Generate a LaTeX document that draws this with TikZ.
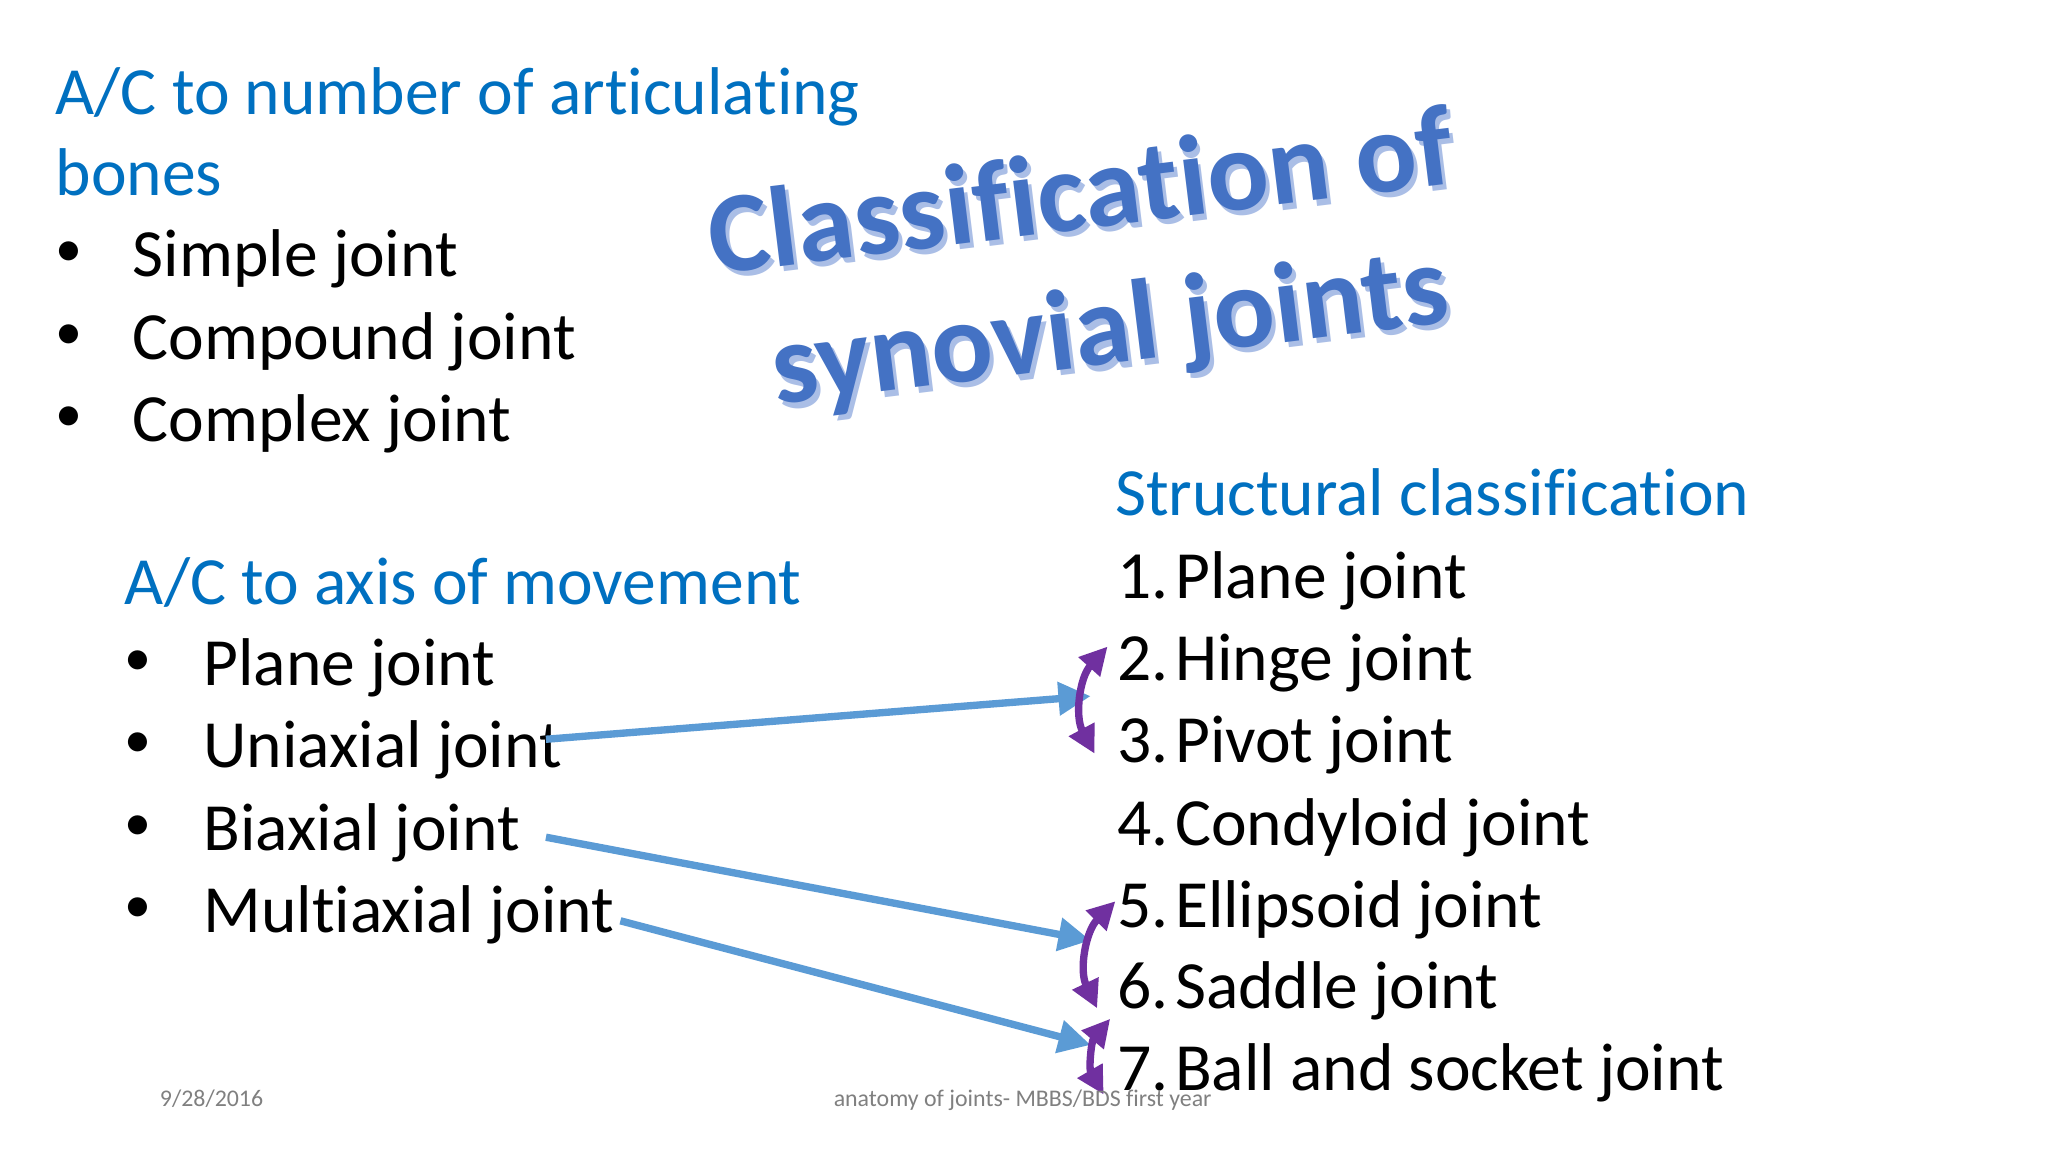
\documentclass[tikz,border=0pt]{standalone}
\usepackage{fontspec}
\setmainfont[Ligatures=NoCommon]{Carlito}
\usetikzlibrary{arrows.meta}
\definecolor{hblue}{RGB}{0,112,192}
\definecolor{ablue}{RGB}{91,155,213}
\definecolor{apurple}{RGB}{112,48,160}
\definecolor{tblue}{RGB}{68,114,196}
\definecolor{tshadow}{RGB}{170,190,230}
\tikzset{
 txt/.style={anchor=base west,inner sep=0pt,font=\fontsize{14.7pt}{16pt}\selectfont},
 head/.style={txt,text=hblue},
 foot/.style={anchor=base,inner sep=0pt,font=\fontsize{5.2pt}{6pt}\selectfont,text=gray},
 barrow/.style={draw=ablue,line width=1.6pt,-{Triangle[length=7pt,width=7pt]}},
 parrow/.style={draw=apurple,line width=1.6pt,{Triangle[length=6pt,width=6pt]}-{Triangle[length=6pt,width=6pt]}},
 title/.style={inner sep=0pt,font=\fontsize{25pt}{28pt}\selectfont\bfseries,text=tblue,rotate=7},
 tshad/.style={title,text=tshadow}
}
\newcommand{\bul}{\raisebox{0.15em}{\scalebox{0.8}{•}}}
\begin{document}
\begin{tikzpicture}[x=0.01cm,y=-0.01cm]
\useasboundingbox[fill=white] (0,0) rectangle (1568,882);
\node[head] (h1) at (42,88) {A/C to number of articulating};
\node[head] (h1b) at (42,150) {bones};
\foreach \t/\y/\n in {Simple joint/212/a,Compound joint/275/b,Complex joint/338/c}{
 \node[txt] (b\n) at (42,\y) {\bul}; \node[txt] (s\n) at (101,\y) {\t};}
\node[tshad] (t1s) at (830,149) {Classification of};
\node[tshad] (t2s) at (853,259) {synovial joints};
\node[title] (t1) at (827,145) {Classification of};
\node[title] (t2) at (850,255) {synovial joints};
\node[head] (h2) at (95,463) {A/C to axis of movement};
\foreach \t/\y/\n in {Plane joint/525/a,Uniaxial joint/588/b,Biaxial joint/651/c,Multiaxial joint/714/d}{
 \node[txt] (c\n) at (95,\y) {\bul}; \node[txt] (m\n) at (155,\y) {\t};}
\node[head] (h3) at (853,395) {Structural classification};
\foreach \t/\y/\n in {Plane joint/458/1,Hinge joint/521/2,Pivot joint/584/3,Condyloid joint/647/4,Ellipsoid joint/710/5,Saddle joint/772/6,Ball and socket joint/835/7}{
 \node[txt] (n\n) at (855,\y) {\n.}; \node[txt] (r\n) at (899,\y) {\t};}
\coordinate (u0) at (418,566); \coordinate (u1) at (835,533);
\coordinate (v0) at (418,641); \coordinate (v1) at (835,720);
\coordinate (w0) at (475,705); \coordinate (w1) at (835,800);
\draw[barrow] (u0) -- (u1);
\draw[barrow] (v0) -- (v1);
\draw[barrow] (w0) -- (w1);
\coordinate (p1) at (848,495); \coordinate (p2) at (838,577);
\coordinate (q1) at (854,690); \coordinate (q2) at (840,772);
\coordinate (k1) at (850,780); \coordinate (k2) at (845,838);
\draw[parrow] (p1) to[bend right=35] (p2);
\draw[parrow] (q1) to[bend right=35] (q2);
\draw[parrow] (k1) to[bend right=35] (k2);
\node[foot] (f1) at (162,847) {9/28/2016};
\node[foot] (f2) at (783,847) {anatomy of joints- MBBS/BDS first year};
\end{tikzpicture}
\end{document}
